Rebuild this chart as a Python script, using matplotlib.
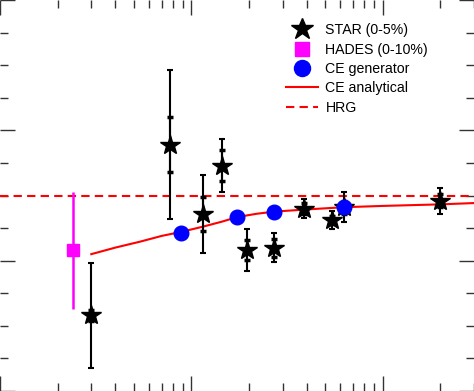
import numpy as np
import matplotlib
matplotlib.use('Agg')
import matplotlib.pyplot as plt
from matplotlib.ticker import MultipleLocator, LogLocator, NullFormatter

plt.rcParams['font.family'] = ['Liberation Sans', 'DejaVu Sans']

# STAR (0-5%)
star_x = [3.0, 7.7, 11.5, 14.5, 19.6, 27.0, 39.0, 54.4, 62.4, 200.0]
star_y = [0.58, 1.89, 1.36, 1.73, 1.08, 1.10, 1.40, 1.31, 1.41, 1.46]
star_sys = [0.40, 0.57, 0.30, 0.20, 0.16, 0.11, 0.07, 0.07, 0.115, 0.10]
star_stat = [0.04, 0.21, 0.13, 0.12, 0.075, 0.07, 0.04, 0.03, 0.05, 0.05]

# HADES (0-10%)
hades_x = [2.4]
hades_y = [1.08]
hades_err = [0.45]

# CE generator
gen_x = [8.8, 17.4, 27.0, 62.4]
gen_y = [1.215, 1.337, 1.376, 1.412]

# CE analytical
ana_x = [3, 4, 5.4, 7, 8.8, 11.5, 14.5, 17.4, 22, 27, 39, 62.4, 100, 200, 300]
ana_y = [1.05, 1.10, 1.146, 1.19, 1.22, 1.261, 1.30, 1.335, 1.36, 1.376,
         1.392, 1.41, 1.42, 1.432, 1.442]

# HRG
hrg = 1.5

fig = plt.figure(figsize=(4.74, 3.91), dpi=100)
ax = fig.add_axes([0, 0, 1, 1])

ax.axhline(hrg, color='red', ls=(0, (4, 2.5)), lw=1.5, label='HRG', zorder=2)
ax.plot(ana_x, ana_y, color='red', lw=1.5, label='CE analytical', zorder=2)

ax.errorbar(hades_x, hades_y, yerr=hades_err, fmt='s', color='magenta',
            ms=9, elinewidth=1.8, capsize=0, label='HADES (0-10%)', zorder=3)

ax.errorbar(star_x, star_y, yerr=star_sys, fmt='none', ecolor='black',
            elinewidth=1.5, capsize=2, capthick=1.5, zorder=3)
ax.errorbar(star_x, star_y, yerr=star_stat, fmt='none', ecolor='black',
            elinewidth=1.5, capsize=2.5, capthick=2.5, zorder=3)
ax.plot(star_x, star_y, '*', color='black', ms=15, ls='none',
        label='STAR (0-5%)', zorder=4)

ax.plot(gen_x, gen_y, 'o', color='blue', ms=10.5, ls='none',
        label='CE generator', zorder=5)

ax.set_xscale('log')
ax.set_xlim(1, 300)
ax.set_ylim(0, 3.0)

ax.xaxis.set_major_locator(LogLocator(base=10))
ax.xaxis.set_minor_locator(LogLocator(base=10, subs=np.arange(2, 10)))
ax.yaxis.set_major_locator(MultipleLocator(1.0))
ax.yaxis.set_minor_locator(MultipleLocator(0.25))
ax.xaxis.set_major_formatter(NullFormatter())
ax.xaxis.set_minor_formatter(NullFormatter())
ax.yaxis.set_major_formatter(NullFormatter())

ax.tick_params(which='major', direction='in', length=11, width=1,
               top=True, right=True, color='#333333')
ax.tick_params(which='minor', direction='in', length=6, width=1,
               top=True, right=True, color='#333333')
for s in ax.spines.values():
    s.set_visible(False)

handles, labels = ax.get_legend_handles_labels()
order = ['STAR (0-5%)', 'HADES (0-10%)', 'CE generator', 'CE analytical', 'HRG']
hmap = dict(zip(labels, handles))
leg = ax.legend([hmap[k] for k in order], order, loc='upper right',
                bbox_to_anchor=(0.915, 0.955), frameon=False, fontsize=10.2,
                handlelength=2.3, handletextpad=0.5, labelspacing=0.38,
                borderaxespad=0, markerscale=1.1)

fig.savefig('out.png', dpi=100)
